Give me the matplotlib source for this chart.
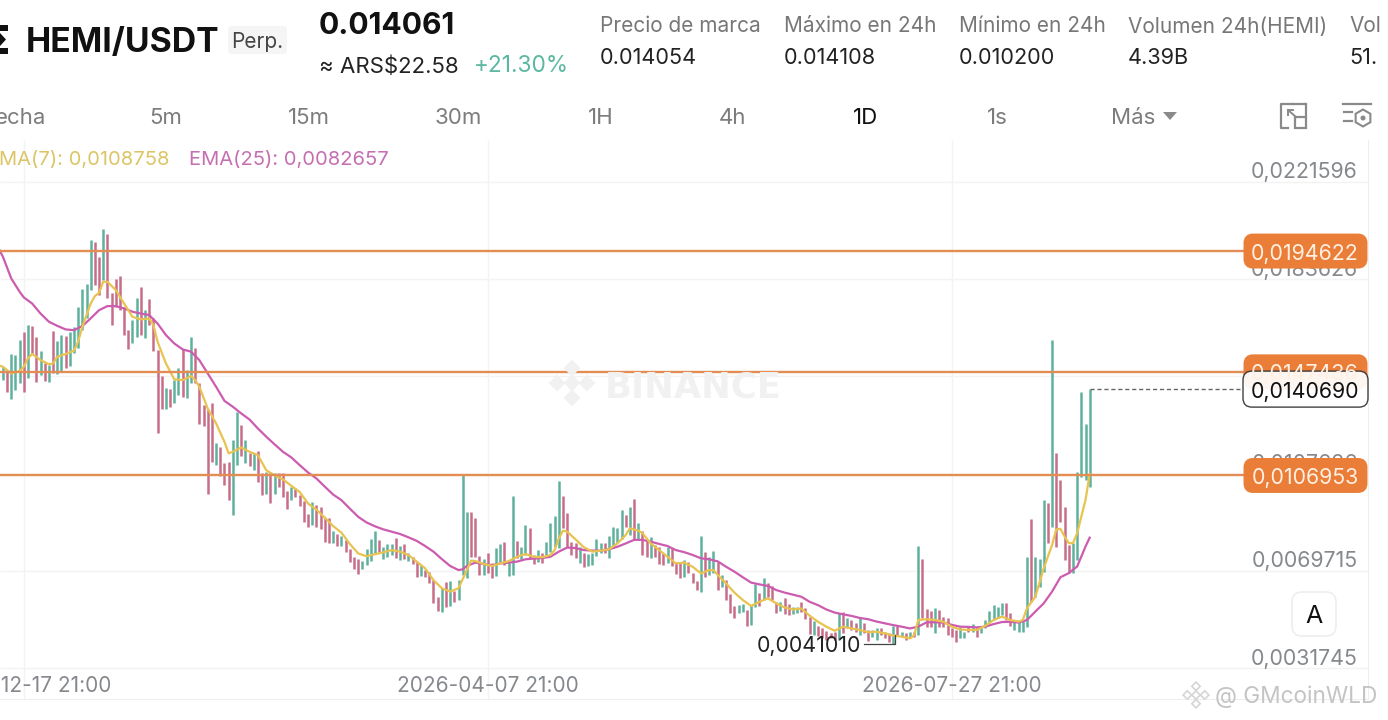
import numpy as np
import matplotlib
matplotlib.use('Agg')
import matplotlib.pyplot as plt
from matplotlib.patches import FancyBboxPatch, Polygon, Rectangle, RegularPolygon, Circle

plt.rcParams['font.family'] = ['Inter', 'DejaVu Sans']

# candles, first one is 5 days before 2025-12-17, prices in 1e-4
high_e4 = [
    149.4,148.1,154.2,154.0,159.8,163.1,165.7,165.3,161.1,155.5,
    150.7,150.0,163.5,159.6,162.0,161.4,163.1,165.0,172.6,179.6,
    181.7,198.9,198.2,192.4,203.2,201.2,178.3,183.5,184.8,172.6,
    163.7,167.6,176.1,180.7,171.5,175.7,168.3,155.9,145.8,141.2,
    140.6,144.2,148.8,156.2,148.1,161.1,156.6,142.9,134.4,133.1,
    135.1,119.7,118.2,111.9,112.3,120.8,131.8,126.6,120.8,115.6,
    115.6,116.6,108.0,108.4,108.4,107.8,108.1,108.1,101.0,102.3,
    101.9,99.3,97.1,91.9,96.7,95.4,94.8,90.2,90.2,85.3,
    84.1,83.2,81.8,78.3,75.0,74.4,73.7,78.4,82.0,85.4,
    81.8,78.9,80.2,80.2,82.4,79.4,80.2,76.8,75.2,73.3,
    72.0,70.0,69.4,66.1,59.6,62.9,65.5,65.9,62.0,66.1,
    107.1,92.6,92.6,90.2,75.5,74.2,76.5,72.6,78.5,80.2,
    81.1,73.3,98.9,81.5,79.1,87.6,86.3,75.9,77.8,76.5,
    81.1,88.5,91.1,104.9,98.9,92.4,81.1,80.4,78.9,76.8,
    76.3,76.5,82.0,80.4,80.4,83.3,86.7,86.3,93.5,91.5,
    94.8,97.6,88.3,85.4,81.8,82.8,79.8,78.9,76.5,78.9,
    78.5,73.3,72.6,73.9,73.3,68.7,65.9,83.3,76.9,75.2,
    77.6,73.3,68.1,66.1,60.6,56.0,56.3,56.7,54.4,56.3,
    64.6,60.9,66.8,64.8,63.8,57.6,57.6,58.9,56.7,55.4,
    55.7,57.6,55.0,51.8,50.2,48.1,47.2,46.3,45.3,45.9,
    53.1,53.7,51.1,50.5,49.2,51.1,49.2,46.6,46.6,47.2,
    47.2,45.9,45.3,48.1,48.1,45.9,45.3,45.9,45.9,79.4,
    74.2,54.6,54.1,55.0,54.4,51.5,51.1,47.2,46.6,47.6,
    45.9,48.1,48.9,47.9,47.9,50.5,54.1,56.3,55.4,57.0,
    57.3,53.4,50.0,49.9,50.3,75.0,89.8,75.2,74.2,97.4,
    96.1,159.9,115.6,105.2,94.8,79.8,80.4,108.4,139.7,127.0,140.69]
low_e4 = [
    144.2,139.4,137.0,140.3,143.2,139.6,145.1,154.6,143.6,146.2,
    143.9,143.6,146.8,146.5,147.4,148.8,149.7,154.6,156.6,163.7,
    168.3,179.4,181.3,177.4,183.3,176.1,165.7,172.6,171.5,161.8,
    156.2,158.5,161.1,161.8,160.5,165.7,155.7,123.4,133.1,133.1,
    133.8,135.1,138.3,137.7,137.4,142.9,143.2,127.0,126.2,99.9,
    112.3,111.0,106.7,103.2,97.3,91.5,111.0,114.5,111.7,110.6,
    109.0,104.5,99.3,99.9,96.1,99.7,102.3,98.4,93.7,97.4,
    98.4,95.0,88.9,86.7,87.6,87.0,85.9,81.1,80.7,80.5,
    79.4,79.3,77.2,73.3,70.5,68.6,70.3,72.0,73.6,76.5,
    77.2,74.2,75.2,75.9,74.6,73.9,74.2,73.7,72.4,67.4,
    67.7,67.2,65.1,57.3,54.1,53.8,55.5,56.0,57.7,58.3,
    68.1,66.8,75.2,75.2,68.1,68.1,68.7,66.8,67.7,73.3,
    72.0,67.7,68.1,74.6,74.2,75.9,74.6,72.4,73.3,72.6,
    75.9,77.2,79.1,78.5,86.3,78.9,75.9,74.6,72.9,71.1,
    71.6,72.0,75.5,76.8,76.8,74.6,78.5,80.4,82.0,87.0,
    83.7,81.8,81.8,75.9,75.0,74.9,75.2,72.4,72.0,72.6,
    71.6,68.5,66.8,67.4,68.7,64.8,62.2,61.6,67.4,68.1,
    68.7,62.2,63.5,58.3,53.1,51.4,53.3,53.7,48.2,48.6,
    55.4,56.0,58.3,59.3,58.3,53.4,54.1,52.8,52.4,52.8,
    53.1,53.7,50.7,45.0,44.6,44.2,43.3,42.7,43.3,42.7,
    42.7,45.3,47.2,46.6,45.9,44.6,45.3,42.4,44.0,42.7,
    44.6,43.3,42.0,41.01,44.6,44.0,42.7,43.3,44.0,44.6,
    51.1,47.9,47.9,45.3,47.9,47.9,44.6,44.0,42.0,43.3,
    43.3,45.9,45.9,43.7,45.5,47.2,49.2,50.5,51.1,52.5,
    50.5,48.3,46.6,46.0,45.7,47.9,57.7,59.6,63.5,69.4,
    80.4,87.0,79.1,88.9,73.9,68.7,68.7,73.9,106.5,105.2,102.3]
# G up, R down
sides = ('GRGGGRGRRG' 'RGRGGRGGGG' 'GGRRGRRRRR' 'RGGRGRRRRG' 'RGGRGGRRRR'
         'RGRRRGGRGR' 'GRRGRGRRRG' 'RRRRGRRRRG' 'RGRRRRGGGG' 'RGGGRGRGRR'
         'GRRRRGRGRG' 'GGRRRGRRGG' 'RGGRGGRRGR' 'GGGGRRRRGR' 'GGGGRGGGGR'
         'GRGRRGRRRG' 'RRRGRRRGRG' 'GRGRRRGGRG' 'GRGRRRGRRG' 'GRRRGRRRRR'
         'GRGRRGRRGG' 'RRRGRGRGRG' 'RRRGRRRRRG' 'GRGRGGGGGG' 'RRGGGGRGGG'
         'RGRRRRGGGGG')
days = np.arange(-5, 256)

ema25_days = [-6,-5,-3,-1,0,2,4,6,8,10,12,14,16,18,20,22,24,26,28,30,32,34,36,38,40,42,44,46,48,50,
              52,54,56,58,60,62,64,66,68,70,72,74,76,78,80,82,84,86,88,90,92,94,96,98,100,102,104,
              105,106,108,110,112,114,116,118,120,122,124,126,128,130,132,134,136,138,140,142,144,
              146,148,150,152,154,156,158,160,162,164,166,168,170,172,174,176,178,180,182,184,186,
              188,190,192,194,196,198,200,202,204,206,208,210,212,214,216,218,220,222,224,226,228,
              230,232,234,236,238,240,242,244,246,248,250,252,254,255]
ema25_e4 = [195.5,192.4,183.9,178.7,176.5,174.1,170.2,167.0,165.4,164.0,163.7,165.3,168.3,171.5,173.1,
            173.1,172.2,170.9,170.2,169.6,166.3,161.8,158.5,156.2,155.3,152.0,146.8,141.6,136.1,
            133.8,131.2,128.8,125.3,122.1,119.1,116.2,114.0,111.0,108.1,105.8,102.6,99.5,97.3,
            94.0,90.8,88.6,87.1,85.9,85.0,84.1,82.8,81.4,79.4,77.2,74.3,71.6,70.0,70.3,71.6,72.9,
            72.4,71.9,72.6,72.9,73.3,74.2,74.5,74.7,75.2,77.2,78.8,78.6,77.8,77.6,77.6,78.1,79.1,
            80.4,81.8,81.8,81.1,80.2,79.4,77.8,77.0,75.9,74.6,74.2,73.4,71.3,69.4,67.2,65.1,64.4,
            63.8,62.2,61.2,60.4,59.6,57.6,56.3,54.6,53.4,52.7,52.1,51.3,50.8,49.9,49.2,48.5,47.9,
            47.2,47.9,49.6,49.6,49.5,48.6,47.9,47.8,47.6,47.9,48.9,49.7,49.8,49.5,50.5,53.8,57.0,
            61.6,67.2,68.8,71.4,79.2,82.66]
ema7_days = [-6,-5,-3,-1,0,1,2,3,4,6,7,8,10,12,13,14,15,16,17,18,19,20,22,24,26,28,30,31,32,34,36,38,
             40,41,42,44,46,48,49,50,52,54,56,58,60,62,64,66,68,70,72,74,76,78,80,82,84,86,88,90,
             92,94,96,98,100,102,104,106,107,108,110,112,114,116,118,120,122,124,126,127,128,129,
             130,132,134,136,138,140,142,144,145,147,148,150,152,154,156,158,160,162,164,165,166,
             168,170,172,174,176,178,180,182,184,186,188,190,192,194,196,198,200,202,204,206,208,
             210,212,213,214,216,218,220,222,224,226,228,230,232,234,236,238,239,240,242,244,246,
             247,248,249,250,251,252,253,254,255]
ema7_e4 = [150.0,149.4,146.8,147.8,149.4,152.7,154.4,153.3,152.0,150.4,150.7,153.3,154.4,155.7,159.2,
           165.0,169.6,174.1,177.0,178.3,182.6,182.6,179.4,174.1,168.9,167.9,168.3,165.7,159.2,
           150.7,144.5,144.2,145.8,144.2,141.6,133.1,127.3,120.1,115.6,116.2,117.9,116.2,114.9,
           109.0,107.0,105.4,102.9,100.5,96.0,93.6,90.5,87.2,84.6,80.2,76.5,75.4,76.2,76.9,77.8,
           77.2,75.9,73.3,70.7,66.1,62.9,61.6,62.9,70.0,73.7,73.5,72.4,71.6,72.6,73.5,75.2,76.3,
           75.2,75.0,75.9,77.8,82.4,85.4,85.0,82.0,78.9,77.2,77.6,78.1,80.4,83.7,86.3,85.4,84.4,
           80.4,77.8,75.2,72.6,72.9,71.3,68.7,70.0,70.0,68.1,64.8,61.2,58.3,56.0,57.6,59.0,57.0,
           55.4,54.6,55.0,52.2,49.8,47.9,46.3,47.9,47.2,46.6,45.7,45.9,45.3,44.4,44.0,43.3,44.6,
           50.5,50.8,50.5,49.8,47.9,46.8,46.6,46.6,48.2,50.5,51.8,50.5,49.9,50.5,55.1,59.6,70.7,
           79.8,85.9,86.1,83.1,80.5,80.5,84.4,90.9,97.4,107.5]

axis_prices = [0.0221596, 0.0183626, 0.0145656, 0.0107686, 0.0069715, 0.0031745]
axis_labels = ['0,0221596', '0,0183626', '', '0,0107686', '0,0069715', '0,0031745']
level_prices = [0.0194622, 0.0147436, 0.0106953]
level_labels = ['0,0194622', '0,0147436', '0,0106953']
last_price = 0.0140690
min_price = 0.0041010
min_day = 208
date_days = [0, 111, 222]
date_labels = ['2025-12-17 21:00', '2026-04-07 21:00', '2026-07-27 21:00']

GREEN = '#5fb19d'
RED = '#c86d88'
ORANGE_LINE = '#e38c54'
ORANGE = '#ea7d38'
GREY = '#85888c'
GRID = '#f3f3f3'

W, H = 1388, 720
fig = plt.figure(figsize=(W / 100, H / 100), dpi=100)
ax = fig.add_axes([0, (H - 699) / H, 1368 / W, (699 - 140) / H])
ax.set_xlim(-5.694, 321.58)
ax.set_ylim(0.001964, 0.023798)
for s in ['top', 'left']:
    ax.spines[s].set_visible(False)
for s in ['bottom', 'right']:
    ax.spines[s].set_color('#eeeeee')
ax.tick_params(left=False, bottom=False, labelleft=False, labelbottom=False)

ax.hlines(axis_prices, -5.694, 321.58, color=GRID, lw=1, zorder=1)
ax.vlines(date_days, 0.001964, 0.023798, color=GRID, lw=1, zorder=1)

high = np.array(high_e4) / 1e4
low = np.array(low_e4) / 1e4
cols = [GREEN if c == 'G' else RED for c in sides]
ax.vlines(days, low, high, colors=cols, lw=1.8, zorder=2, capstyle='butt')
ax.plot(ema25_days, np.array(ema25_e4) / 1e4, color='#cc5cb0', lw=1.6, zorder=3)
ax.plot(ema7_days, np.array(ema7_e4) / 1e4, color='#e8c350', lw=1.6, zorder=3)
ax.hlines(level_prices, -5.694, 291.8, color=ORANGE_LINE, lw=1.7, zorder=4)
ax.plot([days[-1], 291.8], [last_price, last_price], color='#666666', lw=1, ls=(0, (3, 2)), zorder=4)

for d, s in zip(date_days, date_labels):
    nudge = 2 if d == 0 else 0.5   # the narrow 1s in the first label
    ax.annotate(s, (d, 0), xycoords=('data', 'axes fraction'), xytext=(nudge * 0.72, 13 * 0.72),
                textcoords='offset points', ha='center', va='center', fontsize=15, color=GREY)
for p, s in zip(axis_prices, axis_labels):
    ax.annotate(s, (1, p), xycoords=('axes fraction', 'data'), xytext=(-10 * 0.72, 9.5 * 0.72),
                textcoords='offset points', ha='right', va='center', fontsize=15.4, color=GREY, zorder=5)

# lowest price note with its leader
ax.annotate(f'{min_price:.7f}'.replace('.', ','), (min_day, min_price), xytext=(-136 * 0.72, -2 * 0.72),
            textcoords='offset points', ha='left', va='center', fontsize=15.4, color='#222222', zorder=6)
ax.plot([min_day - 7, min_day + 0.4, min_day + 0.4], [min_price, min_price, min_price + 0.00035],
        color='#444444', lw=0.9, zorder=6)

# everything else sits on a pixel overlay
ui = fig.add_axes([0, 0, 1, 1], zorder=10)
ui.set_xlim(0, W)
ui.set_ylim(H, 0)
ui.axis('off')
ui.patch.set_alpha(0)


def py(price):
    return 668 - (price - 0.0031745) / 0.003797 * 97.2


def label(x, y, s, **kw):
    # Inter sits a bit high with va=center
    kw.setdefault('va', 'center')
    return ui.text(x, y + 2.5, s, **kw)


def badge(y, face):
    ui.add_patch(FancyBboxPatch((1247, y - 14), 117, 28, boxstyle='round,pad=0,rounding_size=6',
                                fc=face, ec=face, lw=5))


for p, s in zip(level_prices, level_labels):
    badge(py(p), ORANGE)
    label(1305, py(p), s, color='#fff0e2', fontsize=15.4, ha='center')
ui.add_patch(FancyBboxPatch((1243, py(last_price) - 18), 125, 36, boxstyle='round,pad=0,rounding_size=9',
                            fc='white', ec='#333333', lw=1, alpha=0.93))
label(1305, py(last_price), f'{last_price:.7f}'.replace('.', ','), color='#111111', fontsize=15.4, ha='center')

# A button
ui.add_patch(FancyBboxPatch((1292, 592), 44, 44, boxstyle='round,pad=0,rounding_size=10',
                            fc='white', ec='#eeeeee', lw=1.2))
label(1314, 614, 'A', fontsize=18, color='#111111', ha='center')


def diamond_logo(cx, cy, r, col, filled=True):
    for dx, dy in [(0, -0.62), (-0.62, 0), (0.62, 0), (0, 0.62), (0, 0)]:
        s = 0.3 * r
        pts = [(cx + dx * r, cy + dy * r - s), (cx + dx * r + s, cy + dy * r),
               (cx + dx * r, cy + dy * r + s), (cx + dx * r - s, cy + dy * r)]
        ui.add_patch(Polygon(pts, closed=True, fc=col if filled else 'none', ec=col, lw=1.2))


# watermarks
diamond_logo(572, 383, 24, '#f1f1f1')
ui.text(605, 387, 'BINANCE', fontsize=25.5, fontweight='bold', family='DejaVu Sans', color='#f1f1f1',
        ha='left', va='center', zorder=0.5)
diamond_logo(1196, 695, 14, '#d5d5d5', filled=False)
label(1215, 694, '@ GMcoinWLD', fontsize=16.3, color='#c4c4c4')

# header
ui.add_patch(Rectangle((0, 25), 8, 6, fc='#111111'))
ui.add_patch(Polygon([(0, 33), (6, 39.5), (0, 46)], closed=True, fc='#111111'))
ui.add_patch(Rectangle((0, 48), 8, 6, fc='#111111'))
label(26, 40, 'HEMI/USDT', fontsize=24.3, fontweight='bold', color='#111111')
ui.add_patch(FancyBboxPatch((228, 26), 59, 28, boxstyle='round,pad=0,rounding_size=3', fc='#f5f5f5', ec='none'))
label(257, 39, 'Perp.', fontsize=15, color='#444444', ha='center')
label(319, 24, '0.014061', fontsize=21.6, fontweight='bold', color='#111111')
label(319, 64, '≈ ARS$22.58', fontsize=16, color='#222222')
label(474, 64, '+21.30%', fontsize=16.3, color='#5cb8a0')

stat_x = [600, 784, 959, 1128, 1349]
stat_names = ['Precio de marca', 'Máximo en 24h', 'Mínimo en 24h', 'Volumen 24h(HEMI)', 'Vol']
stat_values = ['0.014054', '0.014108', '0.010200', '4.39B', '51.']
for x, n, v in zip(stat_x, stat_names, stat_values):
    label(x, 24, n, fontsize=15, color='#777777')
    label(x, 56, v, fontsize=15.6, color='#222222')

tab_x = [21, 166, 309, 458, 601, 733, 866, 997, 1133]
tab_names = ['echa', '5m', '15m', '30m', '1H', '4h', '1D', '1s', 'Más']
for x, n in zip(tab_x, tab_names):
    label(x, 116, n, fontsize=16, ha='center', color='#111111' if n == '1D' else '#7c7c7c')
ui.add_patch(Polygon([(1163, 112), (1177, 112), (1170, 120)], closed=True, fc='#8a8a8a', ec='none'))

# two toolbar icons
ic = '#8a8a8a'
ui.plot([1293, 1281, 1281, 1288], [103.5, 103.5, 127.5, 127.5], color=ic, lw=1.6)
ui.plot([1306, 1306, 1305], [115, 103.5, 103.5], color=ic, lw=1.6)
ui.plot([1293, 1306], [103.5, 103.5], color=ic, lw=1.6)
ui.add_patch(Rectangle((1295, 117), 11, 10.5, fc='none', ec=ic, lw=1.6))
ui.plot([1288, 1296], [110, 117], color=ic, lw=1.4)
ui.plot([1288, 1288, 1293], [115, 110, 110], color=ic, lw=1.4)
ui.plot([1343, 1371], [103.5, 103.5], color=ic, lw=1.6)
ui.plot([1344, 1352], [112, 112], color=ic, lw=1.6)
ui.plot([1344, 1352], [121, 121], color=ic, lw=1.6)
ui.add_patch(RegularPolygon((1363, 118), 6, radius=8.5, fc='none', ec=ic, lw=1.5))
ui.add_patch(Circle((1363, 118), 2.5, fc=ic, ec='none'))

# indicator legend
label(-1, 158, 'MA(7): 0,0108758', fontsize=14.5, color='#dcc566')
label(189, 158, 'EMA(25): 0,0082657', fontsize=14.5, color='#c66fb0')

fig.savefig('out.png', dpi=100, facecolor='white')
